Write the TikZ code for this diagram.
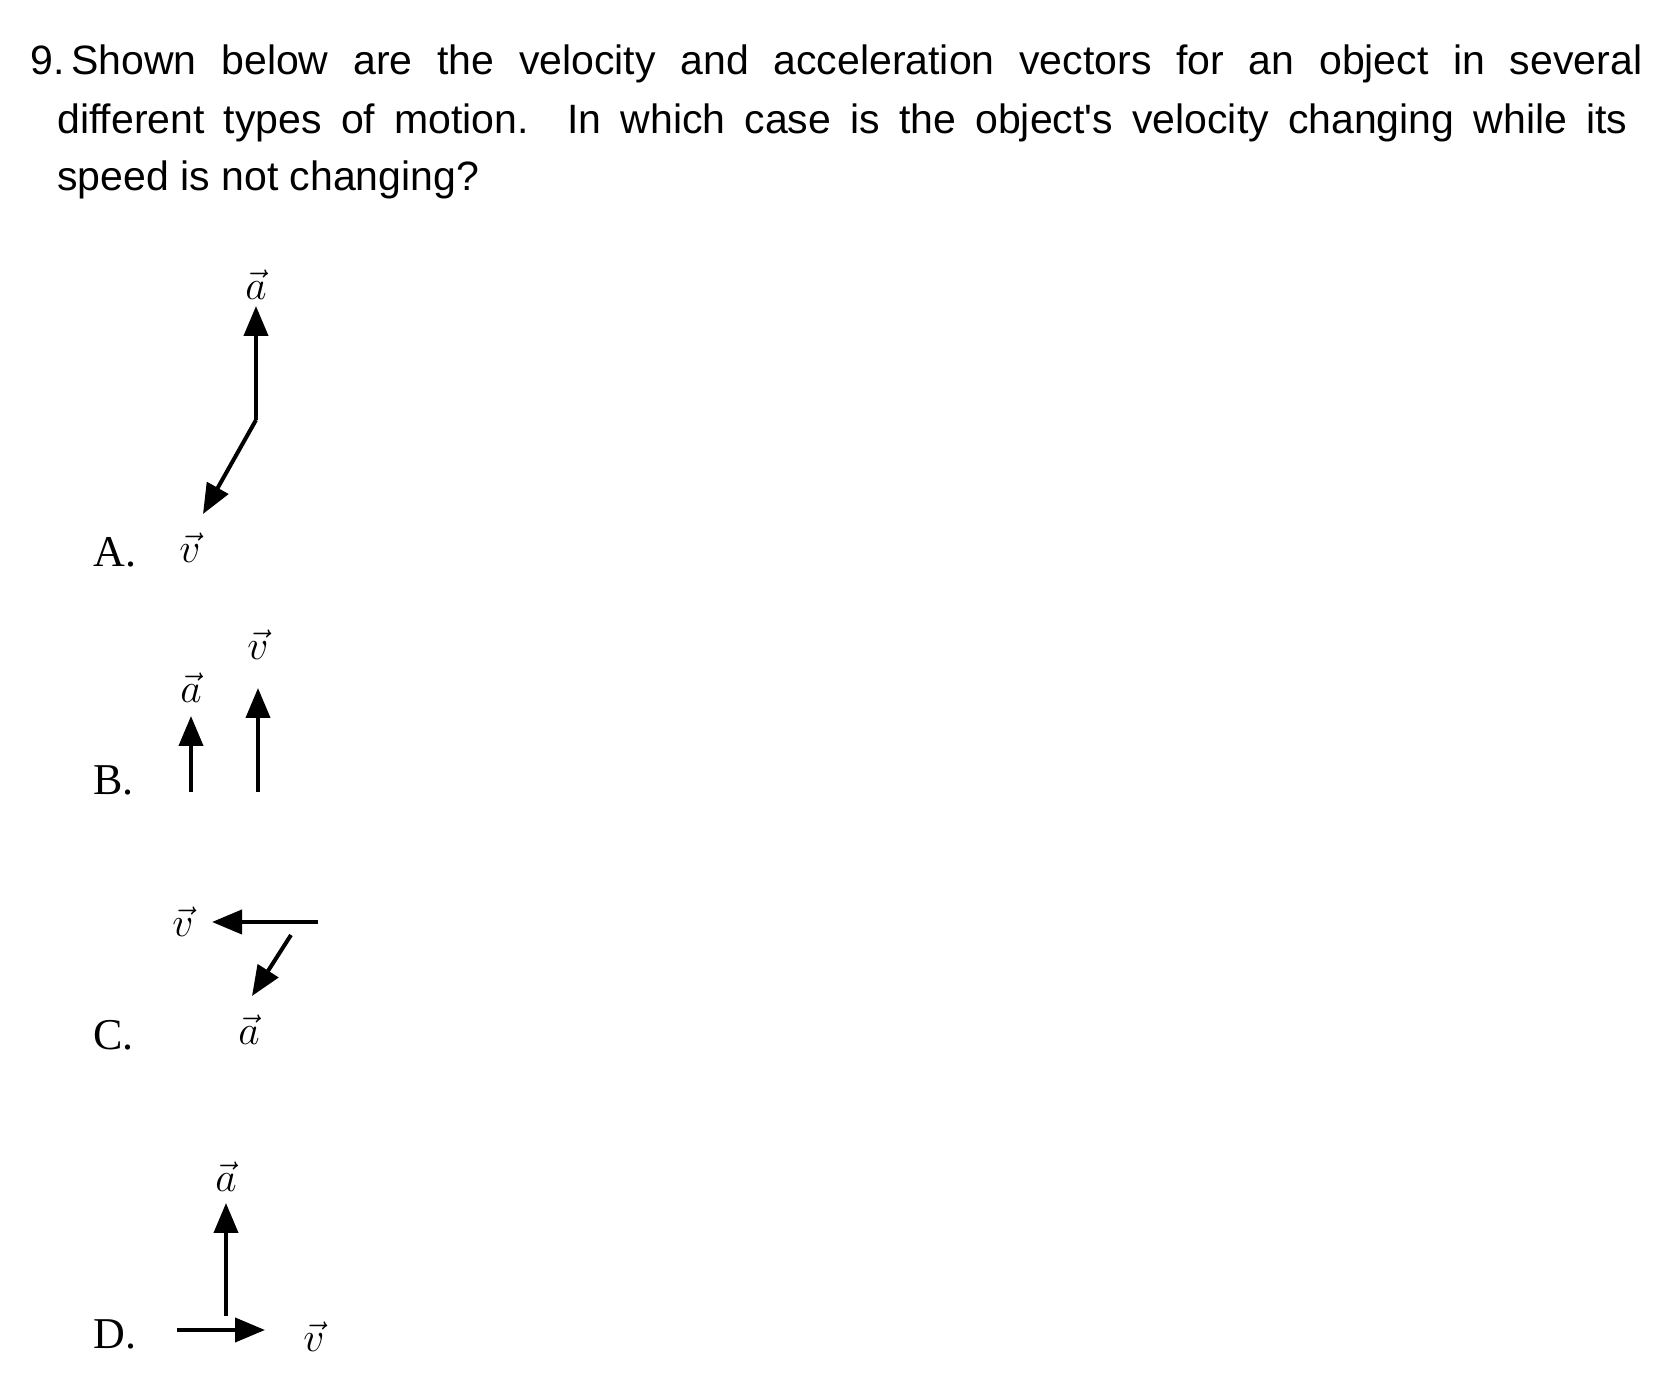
\documentclass[tikz,border=0pt]{standalone}
\usepackage{fontspec}
\setmainfont{Liberation Serif}
\newfontfamily\qfont{Liberation Sans}
\usetikzlibrary{arrows.meta}
\begin{document}
\begin{tikzpicture}[x=0.5pt,y=-0.5pt,
  vec/.style={line width=2pt,-{Triangle[length=15pt,width=12pt]}},
  lbl/.style={font=\fontsize{22}{26}\selectfont,inner sep=0pt},
  vl/.style={font=\fontsize{22}{26}\selectfont,inner sep=0pt},
  ql/.style={font=\qfont\fontsize{20.5}{24}\selectfont,inner sep=0pt,anchor=base west}]
\useasboundingbox (0,0) rectangle (1678,1400);
\node[ql] (l1) at (30,75) {\makebox[806pt][s]{9.\,Shown below are the velocity and acceleration vectors for an object in several}};
\node[ql] (l2) at (57,134) {\makebox[785pt][s]{different types of motion. In which case is the object's velocity changing while its}};
\node[ql] (l3) at (57,191) {speed is not changing?};
% A
\node[lbl,anchor=base west] (A) at (93,567) {A.};
\node[vl] (Aa) at (256,285) {$\vec{a}$};
\node[vl] (Av) at (190,548) {$\vec{v}$};
\coordinate (A0) at (256,420);
\coordinate (Aat) at (256,306);
\coordinate (Avt) at (203,514);
\draw[vec] (A0) -- (Aat);
\draw[vec] (A0) -- (Avt);
% B
\node[lbl,anchor=base west] (B) at (93,795) {B.};
\node[vl] (Ba) at (191,688) {$\vec{a}$};
\node[vl] (Bv) at (258,645) {$\vec{v}$};
\coordinate (B1) at (191,792); \coordinate (B1t) at (191,716);
\coordinate (B2) at (258,792); \coordinate (B2t) at (258,688);
\draw[vec] (B1) -- (B1t);
\draw[vec] (B2) -- (B2t);
% C
\node[lbl,anchor=base west] (C) at (93,1050) {C.};
\node[vl] (Cv) at (183,922) {$\vec{v}$};
\node[vl] (Ca) at (249,1030) {$\vec{a}$};
\coordinate (C1) at (318,922); \coordinate (C1t) at (212,922);
\coordinate (C2) at (291,935); \coordinate (C2t) at (252,996);
\draw[vec] (C1) -- (C1t);
\draw[vec] (C2) -- (C2t);
% D
\node[lbl,anchor=base west] (D) at (93,1348) {D.};
\node[vl] (Da) at (226,1177) {$\vec{a}$};
\node[vl] (Dv) at (314,1337) {$\vec{v}$};
\coordinate (D1) at (226,1316); \coordinate (D1t) at (226,1203);
\coordinate (D2) at (177,1330); \coordinate (D2t) at (265,1330);
\draw[vec] (D1) -- (D1t);
\draw[vec] (D2) -- (D2t);
\end{tikzpicture}
\end{document}
